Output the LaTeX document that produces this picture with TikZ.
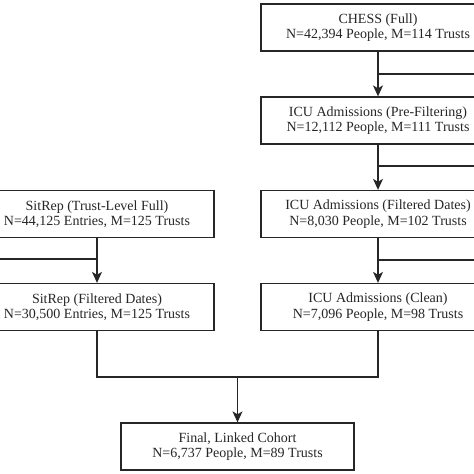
\documentclass[tikz,border=0pt]{standalone}
\usepackage{fontspec}
\setmainfont{Liberation Serif}
\usetikzlibrary{arrows.meta}
\begin{document}
\begin{tikzpicture}[x=1pt,y=1pt,
  box/.style={draw=black!85, line width=1.3pt, fill=white, minimum width=234pt, minimum height=47pt, inner sep=0pt, align=center, font=\fontsize{14}{15.5}\selectfont, text=black!85},
  conn/.style={draw=black!85, line width=1.3pt},
  arr/.style={conn, -{Stealth[length=11pt,width=10pt,inset=3pt]}}]
\useasboundingbox (0,0) rectangle (474,-474);
\clip (0,0) rectangle (474,-474);
\fill[white] (0,0) rectangle (474,-474);
\node[box] (chess) at (378,-27.5) {CHESS (Full)\\N=42,394 People, M=114 Trusts};
\node[box] (pre) at (378,-120.5) {ICU Admissions (Pre-Filtering)\\N=12,112 People, M=111 Trusts};
\node[box] (filt) at (378,-214) {ICU Admissions (Filtered Dates)\\N=8,030 People, M=102 Trusts};
\node[box] (clean) at (378,-307) {ICU Admissions (Clean)\\N=7,096 People, M=98 Trusts};
\node[box] (sitfull) at (97,-214) {SitRep (Trust-Level Full)\\N=44,125 Entries, M=125 Trusts};
\node[box] (sitfilt) at (97,-307) {SitRep (Filtered Dates)\\N=30,500 Entries, M=125 Trusts};
\node[box, minimum width=233pt] (final) at (237.5,-446.5) {Final, Linked Cohort\\N=6,737 People, M=89 Trusts};
\coordinate (e1) at (474,-74);
\coordinate (e2) at (474,-166);
\coordinate (e3) at (474,-260);
\coordinate (e4) at (0,-259);
\coordinate (mL) at (97,-377);
\coordinate (mR) at (378,-377);
\coordinate (mC) at (237.5,-377);
\draw[arr] (chess) -- (pre);
\draw[arr] (pre) -- (filt);
\draw[arr] (filt) -- (clean);
\draw[arr] (sitfull) -- (sitfilt);
\draw[conn] (chess.south |- e1) -- (e1);
\draw[conn] (pre.south |- e2) -- (e2);
\draw[conn] (filt.south |- e3) -- (e3);
\draw[conn] (sitfull.south |- e4) -- (e4);
\draw[conn] (sitfilt.south) -- (mL) -- (mR) -- (clean.south);
\draw[arr] (mC) -- (final.north);
\end{tikzpicture}
\end{document}
